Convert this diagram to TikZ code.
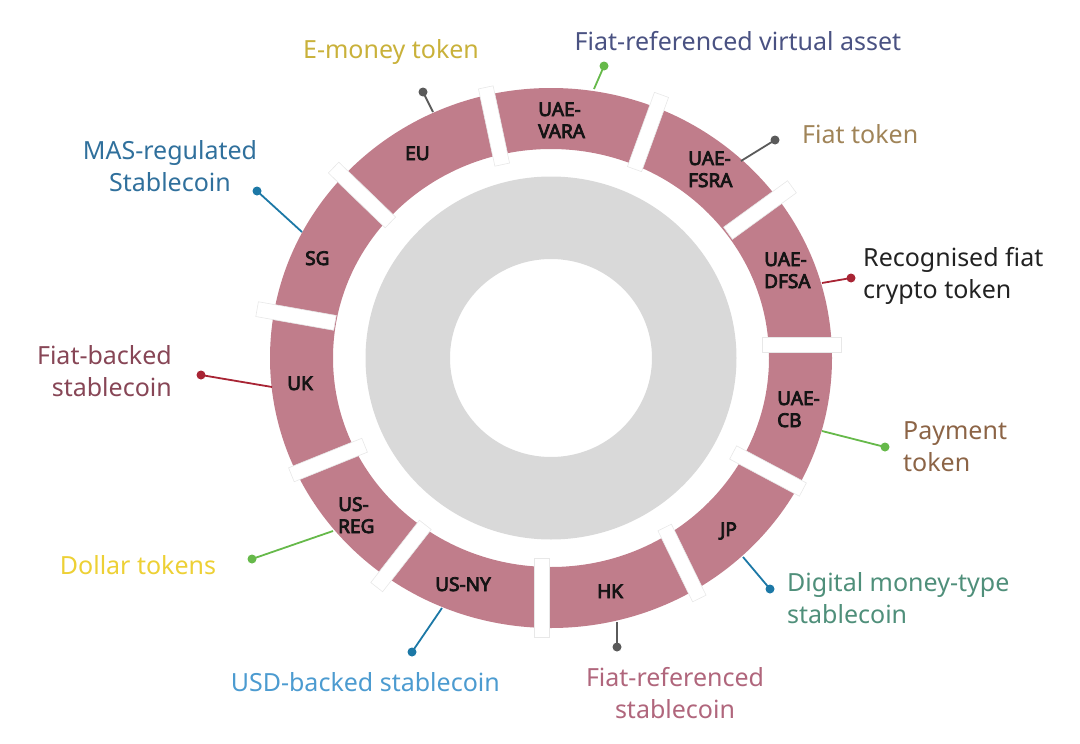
\documentclass[tikz,border=0pt]{standalone}
\usepackage{fontspec}
\setmainfont{Noto Sans}[AutoFakeBold=4]
\usetikzlibrary{calc}
\definecolor{ringpink}{HTML}{C07D8B}
\definecolor{ringgray}{HTML}{D9D9D9}
\definecolor{leadgray}{HTML}{5A5A5A}
\definecolor{leadgreen}{HTML}{66B94A}
\definecolor{leadred}{HTML}{A82434}
\definecolor{leadblue}{HTML}{1C78A6}
\definecolor{cEmoney}{HTML}{C9B13A}
\definecolor{cFrva}{HTML}{4A5282}
\definecolor{cFiat}{HTML}{A08458}
\definecolor{cRecog}{HTML}{222222}
\definecolor{cPay}{HTML}{8C6446}
\definecolor{cDigital}{HTML}{4F8F7A}
\definecolor{cFrs}{HTML}{B0667C}
\definecolor{cUsd}{HTML}{4C9BD0}
\definecolor{cDollar}{HTML}{EDD035}
\definecolor{cFiatb}{HTML}{874656}
\definecolor{cMas}{HTML}{30709C}
\begin{document}
\begin{tikzpicture}[x=1pt,y=-1pt,
  gapbar/.style={rectangle, draw=black!9, fill=white, line width=0.6pt,
    minimum width=79pt, minimum height=15pt, inner sep=0pt},
  seglabel/.style={font=\bfseries\addfontfeatures{FakeBold=1.2}\fontsize{19}{22}\selectfont, align=left,
    anchor=base west, inner sep=0pt, text=black!92},
  outlabel/.style={font=\fontsize{25}{31.5}\selectfont, inner sep=0pt},
  dotnode/.style={circle, inner sep=0pt, minimum size=9pt},
  leader/.style={line width=1.8pt}]
\useasboundingbox (0,0) rectangle (1080,744);
\coordinate (ctr) at (551,358);
% ring and inner disc
\fill[ringpink, even odd rule] (ctr) ellipse [x radius=281, y radius=270]
  (ctr) ellipse [x radius=218, y radius=209];
\fill[ringgray, even odd rule] (ctr) ellipse [x radius=185.5, y radius=181.5]
  (ctr) ellipse [x radius=101, y radius=99];
% gaps between segments
\node[gapbar, rotate=0]   (g1)  at (802,345) {};
\node[gapbar, rotate=36]  (g2)  at (760,210) {};
\node[gapbar, rotate=70]  (g3)  at (648,132) {};
\node[gapbar, rotate=102] (g4)  at (494,126) {};
\node[gapbar, rotate=136] (g5)  at (362,195) {};
\node[gapbar, rotate=170] (g6)  at (296,316) {};
\node[gapbar, rotate=202] (g7)  at (328,460) {};
\node[gapbar, rotate=232] (g8)  at (401,556) {};
\node[gapbar, rotate=270] (g9)  at (542,598) {};
\node[gapbar, rotate=296] (g10) at (682,563) {};
\node[gapbar, rotate=332] (g11) at (768,471) {};
% segment labels (base = last line)
\node[seglabel] (sVARA) at (538,138) {UAE-\\VARA};
\node[seglabel] (sFSRA) at (688,187) {UAE-\\FSRA};
\node[seglabel] (sDFSA) at (764,288) {UAE-\\DFSA};
\node[seglabel] (sCB)   at (777,427) {UAE-\\CB};
\node[seglabel] (sJP)   at (720,536) {JP};
\node[seglabel] (sHK)   at (597,598) {HK};
\node[seglabel] (sNY)   at (435,591) {US-NY};
\node[seglabel] (sREG)  at (338,533) {US-\\REG};
\node[seglabel] (sUK)   at (287,390) {UK};
\node[seglabel] (sSG)   at (305,265) {SG};
\node[seglabel] (sEU)   at (405,160) {EU};
% leader end points on the ring
\coordinate (eEU)   at (433,112);
\coordinate (eVARA) at (594,89);
\coordinate (eFSRA) at (741,161);
\coordinate (eDFSA) at (822,283);
\coordinate (eCB)   at (822,431);
\coordinate (eJP)   at (743,557);
\coordinate (eHK)   at (617,622);
\coordinate (eNY)   at (442,608);
\coordinate (eREG)  at (333,531);
\coordinate (eUK)   at (272,387);
\coordinate (eSG)   at (302,232);
% dots
\node[dotnode, fill=leadgray]  (dEU)   at (423,92) {};
\node[dotnode, fill=leadgreen] (dVARA) at (604,66) {};
\node[dotnode, fill=leadgray]  (dFSRA) at (775,140) {};
\node[dotnode, fill=leadred]   (dDFSA) at (851,278) {};
\node[dotnode, fill=leadgreen] (dCB)   at (885,447) {};
\node[dotnode, fill=leadblue]  (dJP)   at (770,589) {};
\node[dotnode, fill=leadgray]  (dHK)   at (617,647) {};
\node[dotnode, fill=leadblue]  (dNY)   at (412,652) {};
\node[dotnode, fill=leadgreen] (dREG)  at (252,559) {};
\node[dotnode, fill=leadred]   (dUK)   at (201,375) {};
\node[dotnode, fill=leadblue]  (dSG)   at (257,191) {};
% leaders
\draw[leader, leadgray]  (eEU) -- (dEU.center);
\draw[leader, leadgreen] (eVARA) -- (dVARA.center);
\draw[leader, leadgray]  (eFSRA) -- (dFSRA.center);
\draw[leader, leadred]   (eDFSA) -- (dDFSA.center);
\draw[leader, leadgreen] (eCB) -- (dCB.center);
\draw[leader, leadblue]  (eJP) -- (dJP.center);
\draw[leader, leadgray]  (eHK) -- (dHK.center);
\draw[leader, leadblue]  (eNY) -- (dNY.center);
\draw[leader, leadgreen] (eREG) -- (dREG.center);
\draw[leader, leadred]   (eUK) -- (dUK.center);
\draw[leader, leadblue]  (eSG) -- (dSG.center);
% outer labels (base = last line)
\node[outlabel, text=cEmoney, anchor=base] (lEU) at (391,58) {E-money token};
\node[outlabel, text=cFrva, anchor=base] (lVARA) at (738,50) {Fiat-referenced virtual asset};
\node[outlabel, text=cFiat, anchor=base west] (lFSRA) at (802,143) {Fiat token};
\node[outlabel, text=cRecog, anchor=base west, align=left] (lDFSA) at (863,298) {Recognised fiat\\crypto token};
\node[outlabel, text=cPay, anchor=base west, align=left] (lCB) at (903,471) {Payment\\token};
\node[outlabel, text=cDigital, anchor=base west, align=left] (lJP) at (787,623) {Digital money-type\\stablecoin};
\node[outlabel, text=cFrs, anchor=base, align=center] (lHK) at (675,718) {Fiat-referenced\\stablecoin};
\node[outlabel, text=cUsd, anchor=base east] (lNY) at (500,691) {USD-backed stablecoin};
\node[outlabel, text=cDollar, anchor=base] (lREG) at (138,574) {Dollar tokens};
\node[outlabel, text=cFiatb, anchor=base east, align=right] (lUK) at (172,396) {Fiat-backed\\stablecoin};
\node[outlabel, text=cMas, anchor=base, align=center] (lSG) at (170,191) {MAS-regulated\\Stablecoin};
\end{tikzpicture}
\end{document}
